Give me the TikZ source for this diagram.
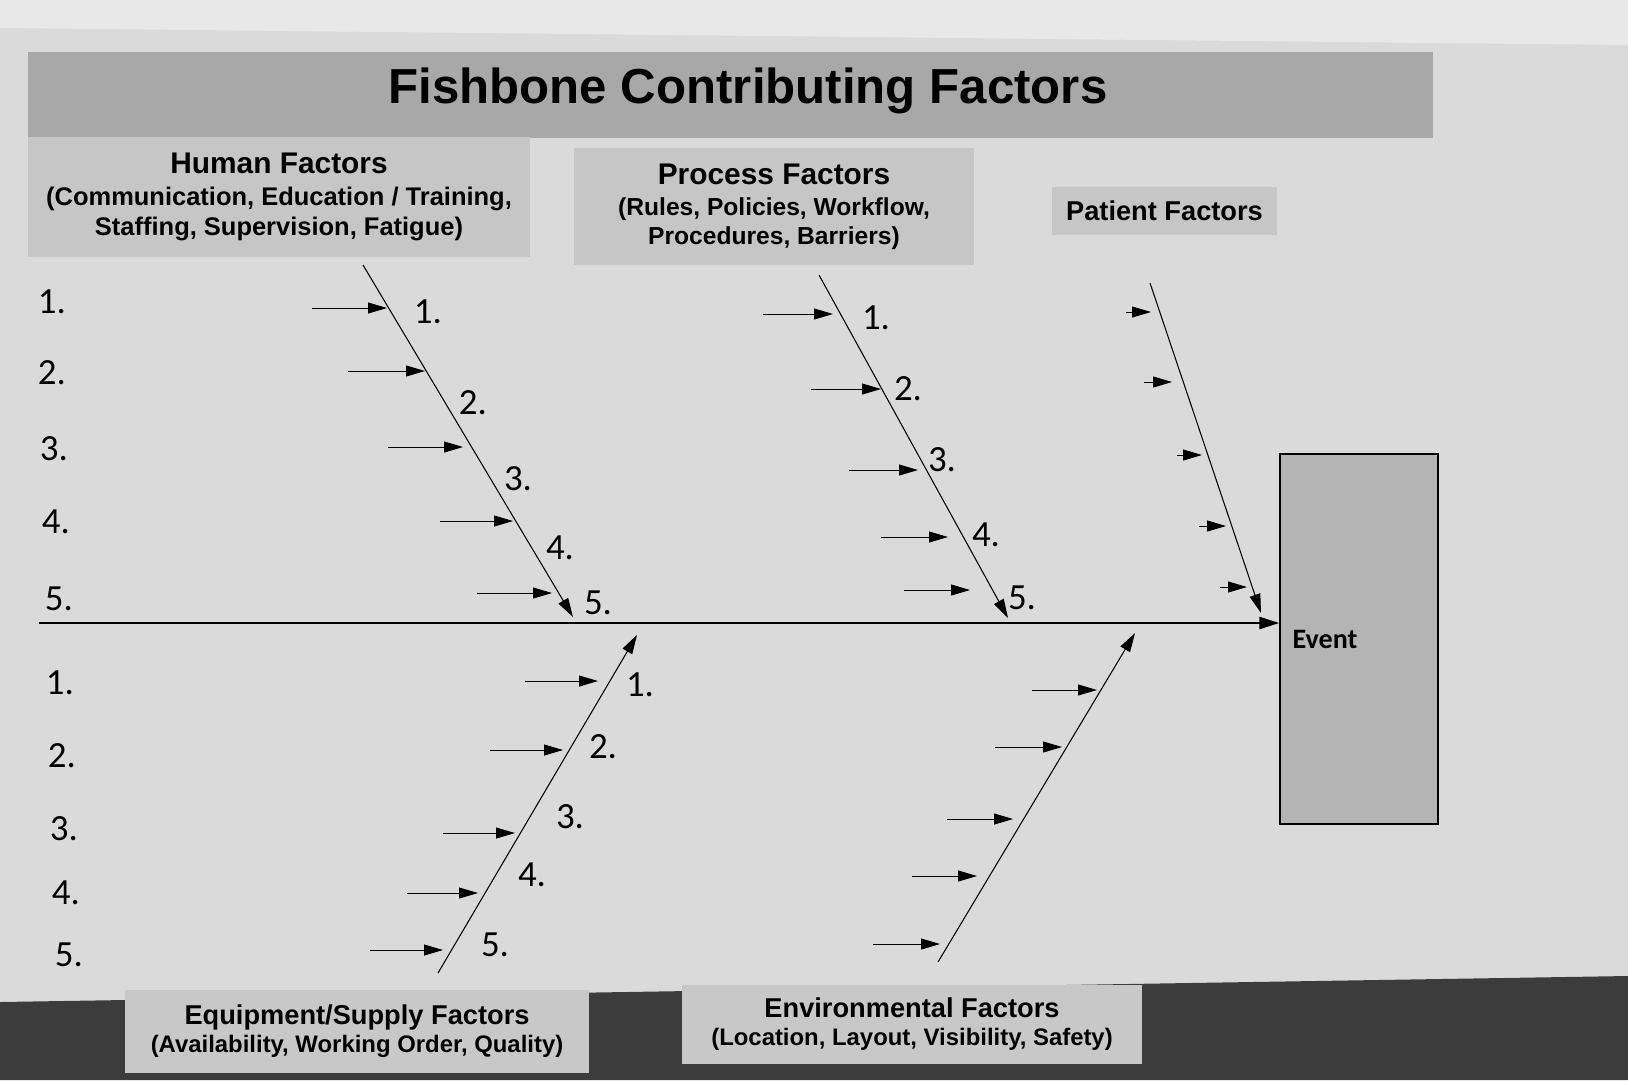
\documentclass[tikz,border=0pt]{standalone}
\usepackage{fontspec}
\setmainfont{Liberation Sans}
\newfontfamily\calfont{Carlito}
\usetikzlibrary{arrows.meta}

\definecolor{screen}{HTML}{DADADA}
\definecolor{ruler}{HTML}{E8E8E8}
\definecolor{titlegray}{HTML}{A8A8A8}
\definecolor{hdrgray}{HTML}{C6C6C6}
\definecolor{eventgray}{HTML}{B4B4B4}
\definecolor{bezel}{HTML}{3C3C3C}
\definecolor{footgray}{HTML}{C8C8C8}

\tikzset{
  hdrbox/.style={fill=hdrgray, inner sep=0pt, align=center},
  footbox/.style={fill=footgray, inner sep=0pt, align=center},
  numlbl/.style={font=\calfont\fontsize{21}{24}\selectfont, inner sep=0pt},
  spine/.style={line width=1.4pt, -{Triangle[length=4mm,width=2.4mm]}},
  bone/.style={line width=0.6pt, -{Triangle[length=3.8mm,width=2.2mm]}},
  twig/.style={line width=0.5pt, -{Triangle[length=3.8mm,width=2.2mm]}}
}

\begin{document}
\begin{tikzpicture}[x=0.02cm, y=-0.02cm]
  \useasboundingbox (0,0) rectangle (1628,1080);

  % screen, ruler and bezel
  \fill[screen] (0,0) rectangle (1628,1080);
  \fill[ruler] (0,0) -- (1628,0) -- (1628,45) -- (0,28) -- cycle;
  \fill[bezel] (0,1002) -- (1628,976) -- (1628,1080) -- (0,1080) -- cycle;

  % Title
  \node[fill=titlegray, minimum width=28.1cm, minimum height=1.72cm, inner sep=0pt] (titlebar) at (730.5,95) {};
  \node[font=\bfseries\fontsize{28}{32}\selectfont] (title) at (748,91) {Fishbone Contributing Factors};

  % Headers top
  \node[hdrbox, minimum width=10.04cm, minimum height=2.4cm, font=\bfseries\fontsize{14.5}{17}\selectfont] (human) at (279,197) {
    {\fontsize{17}{20}\selectfont Human Factors}\\[1pt]
    (Communication, Education / Training,\\
    Staffing, Supervision, Fatigue)
  };
  \node[hdrbox, minimum width=8cm, minimum height=2.34cm, font=\bfseries\fontsize{14}{16.5}\selectfont] (process) at (774,206.5) {
    {\fontsize{17}{20}\selectfont Process Factors}\\[1pt]
    (Rules, Policies, Workflow,\\
    Procedures, Barriers)
  };
  \node[hdrbox, minimum width=4.5cm, minimum height=0.96cm, font=\bfseries\fontsize{15.5}{18}\selectfont] (patient) at (1164.5,211) {Patient Factors};

  % Headers bottom
  \node[footbox, minimum width=9.28cm, minimum height=1.66cm, font=\bfseries\fontsize{13.6}{16}\selectfont] (equip) at (357,1031.5) {
    {\fontsize{15.5}{18}\selectfont Equipment/Supply Factors}\\
    (Availability, Working Order, Quality)
  };
  \node[footbox, minimum width=9.2cm, minimum height=1.58cm, font=\bfseries\fontsize{13.6}{16}\selectfont] (environ) at (912,1024.5) {
    {\fontsize{15.5}{18}\selectfont Environmental Factors}\\
    (Location, Layout, Visibility, Safety)
  };

  % Event
  \node[draw, line width=0.8pt, fill=eventgray, minimum width=3.16cm, minimum height=7.4cm, inner sep=0pt] (event) at (1359,639) {};
  \node[font=\calfont\bfseries\fontsize{16}{19}\selectfont, anchor=west, inner sep=0pt] (eventtxt) at ([xshift=0.26cm]event.west) {Event};

  % Spine
  \coordinate (tail) at (39,623);
  \draw[spine] (tail) -- (event.west |- tail);

  % Numbers at left
  \foreach \n/\x/\y in {1/52/302, 2/52/373, 3/54/449, 4/56/522, 5/59/599}
    \node[numlbl] (top\n) at (\x,\y) {\n.};
  \foreach \n/\x/\y in {1/60/683, 2/62/756, 3/64/829, 4/66/893, 5/69/955}
    \node[numlbl] (bot\n) at (\x,\y) {\n.};

  % Human bone
  \coordinate (hum-a) at (363,265);
  \coordinate (hum-b) at (573,617);
  \draw[bone] (hum-a) -- (hum-b);
  \foreach \n/\xs/\xe/\y in {1/312/387/308, 2/348/425/371, 3/388/463/447, 4/440/513/521, 5/477/552/593} {
    \coordinate (hum-s\n) at (\xs,\y);
    \coordinate (hum-t\n) at (\xe,\y);
    \draw[twig] (hum-s\n) -- (hum-t\n);
  }
  \foreach \n/\x/\y in {1/428/312, 2/473/403, 3/518/479, 4/560/548, 5/598/603}
    \node[numlbl] (hum-l\n) at (\x,\y) {\n.};

  % Process bone
  \coordinate (pro-a) at (819,275);
  \coordinate (pro-b) at (1008,618);
  \draw[bone] (pro-a) -- (pro-b);
  \foreach \n/\xs/\xe/\y in {1/763/833/314, 2/811/881/389, 3/849/918/470, 4/881/948/537, 5/904/970/590} {
    \coordinate (pro-s\n) at (\xs,\y);
    \coordinate (pro-t\n) at (\xe,\y);
    \draw[twig] (pro-s\n) -- (pro-t\n);
  }
  \foreach \n/\x/\y in {1/876/318, 2/908/389, 3/942/460, 4/986/535, 5/1022/598}
    \node[numlbl] (pro-l\n) at (\x,\y) {\n.};

  % Patient bone
  \coordinate (pat-a) at (1150,283);
  \coordinate (pat-b) at (1261,613);
  \draw[bone] (pat-a) -- (pat-b);
  \foreach \n/\xs/\xe/\y in {1/1126/1151/312, 2/1144/1172/382, 3/1177/1202/455, 4/1199/1226/526, 5/1220/1247/587} {
    \coordinate (pat-s\n) at (\xs,\y);
    \coordinate (pat-t\n) at (\xe,\y);
    \draw[twig] (pat-s\n) -- (pat-t\n);
  }

  % Equipment bone
  \coordinate (eqp-a) at (438,973);
  \coordinate (eqp-b) at (637,635);
  \draw[bone] (eqp-a) -- (eqp-b);
  \foreach \n/\xs/\xe/\y in {1/525/598/681, 2/490/563/750, 3/443/515/833, 4/407/478/893, 5/370/443/950} {
    \coordinate (eqp-s\n) at (\xs,\y);
    \coordinate (eqp-t\n) at (\xe,\y);
    \draw[twig] (eqp-s\n) -- (eqp-t\n);
  }
  \foreach \n/\x/\y in {1/640/685, 2/603/747, 3/570/817, 4/532/875, 5/495/945}
    \node[numlbl] (eqp-l\n) at (\x,\y) {\n.};

  % Environmental bone
  \coordinate (env-a) at (938,962);
  \coordinate (env-b) at (1135,633);
  \draw[bone] (env-a) -- (env-b);
  \foreach \n/\xs/\xe/\y in {1/1032/1097/690, 2/995/1062/747, 3/947/1013/819, 4/912/977/876, 5/873/940/944} {
    \coordinate (env-s\n) at (\xs,\y);
    \coordinate (env-t\n) at (\xe,\y);
    \draw[twig] (env-s\n) -- (env-t\n);
  }
\end{tikzpicture}
\end{document}
